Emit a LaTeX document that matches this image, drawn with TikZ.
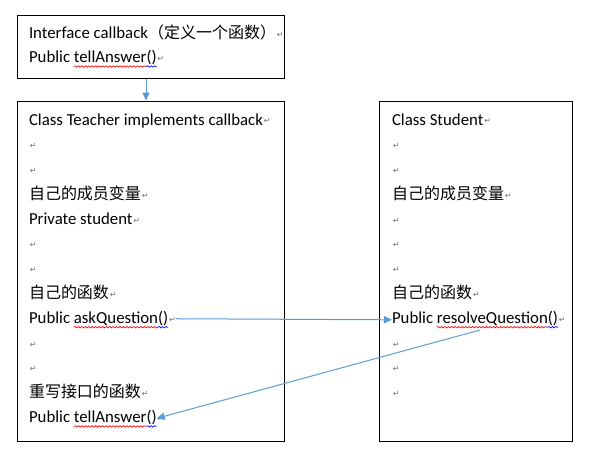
\documentclass[tikz,border=0pt]{standalone}
\usepackage{fontspec}
\setmainfont{Carlito}
\newfontfamily\cjk{Noto Sans CJK SC}
\newfontfamily\dvs{DejaVu Sans}
\usetikzlibrary{arrows.meta,fit,calc,decorations.pathmorphing}
\definecolor{arrowblue}{HTML}{5B9BD5}
\definecolor{pmgray}{HTML}{707070}
\tikzset{
  txt/.style={anchor=base west,inner sep=0pt,outer sep=0pt,font=\fontsize{12.6}{14}\selectfont},
  cn/.style={txt,font=\cjk\fontsize{12}{14}\selectfont},
  pmark/.style={anchor=base west,inner sep=0pt,outer sep=0pt,text=pmgray,font=\dvs\fontsize{6}{6}\selectfont,xshift=0.6pt,yshift=0.8pt},
  box/.style={draw=black,line width=0.75pt,inner sep=0pt},
  arr/.style={draw=arrowblue,line width=0.75pt,-{Triangle[width=5.4pt,length=6pt]}},
  squig/.style={line width=0.5pt,decorate,decoration={snake,amplitude=0.55pt,segment length=2.6pt}},
  redsq/.style={squig,draw=red},
  bluesq/.style={squig,draw=blue},
}
\newcommand\ret{↵}
\begin{document}
\begin{tikzpicture}[x=0.75pt,y=-0.75pt]
\useasboundingbox (0,0) rectangle (597,454);
% boxes
\node[box,fit={(17,15)(284,78)}] (topbox) {};
\node[box,fit={(17,101)(284,441)}] (teacher) {};
\node[box,fit={(379,101)(572,441)}] (student) {};
% top box text
\node[txt] (i1) at (29,38.3) {Interface callback};
\node[cn] (i1c) at (i1.base east) {（定义一个函数）};
\node[pmark] (i1p) at (i1c.base east) {\ret};
\node[txt] (i2a) at (29,62.7) {Public};
\node[txt,xshift=2.8pt] (i2b) at (i2a.base east) {tellAnswer};
\node[txt] (i2c) at (i2b.base east) {()};
\node[pmark] (i2p) at (i2c.base east) {\ret};
% teacher
\node[txt] (t0) at (29,125) {Class Teacher implements callback};
\node[pmark] (t0p) at (t0.base east) {\ret};
\node[pmark] (t1) at (29,149.8) {\ret};
\node[pmark] (t2) at (29,174.6) {\ret};
\node[cn] (t3) at (29,199.4) {自己的成员变量};
\node[pmark] (t3p) at (t3.base east) {\ret};
\node[txt] (t4) at (29,224.2) {Private student};
\node[pmark] (t4p) at (t4.base east) {\ret};
\node[pmark] (t5) at (29,249) {\ret};
\node[pmark] (t6) at (29,273.8) {\ret};
\node[cn] (t7) at (29,298.6) {自己的函数};
\node[pmark] (t7p) at (t7.base east) {\ret};
\node[txt] (t8a) at (29,323.4) {Public};
\node[txt,xshift=2.8pt] (t8b) at (t8a.base east) {askQuestion};
\node[txt] (t8c) at (t8b.base east) {()};
\node[pmark] (t8p) at (t8c.base east) {\ret};
\node[pmark] (t9) at (29,348.2) {\ret};
\node[pmark] (t10) at (29,373) {\ret};
\node[cn] (t11) at (29,397.8) {重写接口的函数};
\node[pmark] (t11p) at (t11.base east) {\ret};
\node[txt] (t12a) at (29,422.6) {Public};
\node[txt,xshift=2.8pt] (t12b) at (t12a.base east) {tellAnswer};
\node[txt] (t12c) at (t12b.base east) {()};
\node[pmark] (t12p) at (t12c.base east) {\ret};
% student
\node[txt] (s0) at (392,125) {Class Student};
\node[pmark] (s0p) at (s0.base east) {\ret};
\node[pmark] (s1) at (392,149.8) {\ret};
\node[pmark] (s2) at (392,174.6) {\ret};
\node[cn] (s3) at (392,199.4) {自己的成员变量};
\node[pmark] (s3p) at (s3.base east) {\ret};
\node[pmark] (s4) at (392,224.2) {\ret};
\node[pmark] (s5) at (392,249) {\ret};
\node[pmark] (s6) at (392,273.8) {\ret};
\node[cn] (s7) at (392,298.6) {自己的函数};
\node[pmark] (s7p) at (s7.base east) {\ret};
\node[txt] (s8a) at (392,323.4) {Public};
\node[txt,xshift=2.8pt] (s8b) at (s8a.base east) {resolveQuestion};
\node[txt] (s8c) at (s8b.base east) {()};
\node[pmark] (s8p) at (s8c.base east) {\ret};
\node[pmark] (s9) at (392,348.2) {\ret};
\node[pmark] (s10) at (392,373) {\ret};
\node[pmark] (s11) at (392,397.8) {\ret};
% squiggles
\draw[redsq] ($(i2b.base west)+(0,3.8)$) -- ($(i2b.base east)+(0,3.8)$);
\draw[bluesq] ($(i2c.base west)+(0,3.8)$) -- ($(i2c.base east)+(0,3.8)$);
\draw[redsq] ($(t8b.base west)+(0,3.8)$) -- ($(t8b.base east)+(0,3.8)$);
\draw[bluesq] ($(t8c.base west)+(0,3.8)$) -- ($(t8c.base east)+(0,3.8)$);
\draw[redsq] ($(t12b.base west)+(0,3.8)$) -- ($(t12b.base east)+(0,3.8)$);
\draw[bluesq] ($(t12c.base west)+(0,3.8)$) -- ($(t12c.base east)+(0,3.8)$);
\draw[redsq] ($(s8b.base west)+(0,3.8)$) -- ($(s8b.base east)+(0,3.8)$);
\draw[bluesq] ($(s8c.base west)+(0,3.8)$) -- ($(s8c.base east)+(0,3.8)$);
% connectors
\coordinate (ax) at (146,0);
\draw[arr] (topbox.south -| ax) -- (teacher.north -| ax);
\draw[arr] ($(t8p.base east)+(0,-3.6)$) -- ($(s8a.base west)+(0,-3.6)$);
\coordinate (rqfoot) at (480,330);
\draw[arr] (rqfoot) -- ($(t12c.base east)+(0,-4.2)$);
\end{tikzpicture}
\end{document}
